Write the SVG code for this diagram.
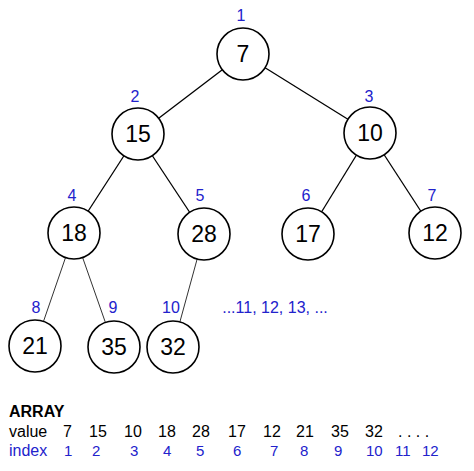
<svg xmlns="http://www.w3.org/2000/svg" width="474" height="471" viewBox="0 0 474 471">
<style>
text{font-family:"Liberation Sans",Arial,sans-serif}
.n circle{fill:#fff;stroke:#000;stroke-width:1.6}
.n text{font-size:23px;text-anchor:middle;fill:#000}
.lbl{font-size:16px;fill:#2222cc;text-anchor:middle}
.e1{stroke:#000;stroke-width:1.3}
.e2{stroke:#333;stroke-width:1}
.v{font-size:16px;fill:#000}
.ix{font-size:15px;fill:#2222cc}
</style>
<rect width="474" height="471" fill="#fff"/>
<g id="connectors">
<line class="e1" x1="243" y1="54" x2="138" y2="134"/>
<line class="e1" x1="243" y1="54" x2="370" y2="133"/>
<line class="e1" x1="138" y1="134" x2="74" y2="233"/>
<line class="e1" x1="138" y1="134" x2="204" y2="234"/>
<line class="e1" x1="370" y1="133" x2="308" y2="234"/>
<line class="e1" x1="370" y1="133" x2="435" y2="233"/>
<line class="e2" x1="74" y1="233" x2="35" y2="346"/>
<line class="e2" x1="74" y1="233" x2="114" y2="347"/>
<line class="e2" x1="204" y1="234" x2="173" y2="347"/>
</g>
<g id="node1" class="n"><circle cx="243" cy="54" r="26"/><text x="243" y="62">7</text></g>
<g id="node2" class="n"><circle cx="138" cy="134" r="26"/><text x="138" y="142">15</text></g>
<g id="node3" class="n"><circle cx="370" cy="133" r="26"/><text x="370" y="141">10</text></g>
<g id="node4" class="n"><circle cx="74" cy="233" r="26"/><text x="74" y="241">18</text></g>
<g id="node5" class="n"><circle cx="204" cy="234" r="26"/><text x="204" y="242">28</text></g>
<g id="node6" class="n"><circle cx="308" cy="234" r="26"/><text x="308" y="242">17</text></g>
<g id="node7" class="n"><circle cx="435" cy="233" r="26"/><text x="435" y="241">12</text></g>
<g id="node8" class="n"><circle cx="35" cy="346" r="26"/><text x="35" y="354">21</text></g>
<g id="node9" class="n"><circle cx="114" cy="347" r="26"/><text x="114" y="355">35</text></g>
<g id="node10" class="n"><circle cx="173" cy="347" r="26"/><text x="173" y="355">32</text></g>
<g id="labels">
<text class="lbl" x="241" y="21">1</text>
<text class="lbl" x="135" y="102">2</text>
<text class="lbl" x="369" y="102">3</text>
<text class="lbl" x="72" y="201">4</text>
<text class="lbl" x="200" y="201">5</text>
<text class="lbl" x="306" y="201">6</text>
<text class="lbl" x="432" y="201">7</text>
<text class="lbl" x="36" y="313">8</text>
<text class="lbl" x="113" y="313">9</text>
<text class="lbl" x="171" y="313">10</text>
<text class="lbl" x="275" y="313">...11, 12, 13, ...</text>
</g>
<g id="array">
<text x="9" y="417" style="font-size:16px;font-weight:bold">ARRAY</text>
<text class="v" x="9" y="437">value</text>
<text class="v" x="63" y="437">7</text>
<text class="v" x="89" y="437">15</text>
<text class="v" x="124" y="437">10</text>
<text class="v" x="158" y="437">18</text>
<text class="v" x="192" y="437">28</text>
<text class="v" x="228" y="437">17</text>
<text class="v" x="263" y="437">12</text>
<text class="v" x="296" y="437">21</text>
<text class="v" x="331" y="437">35</text>
<text class="v" x="365" y="437">32</text>
<text class="v" x="398" y="437">. . . .</text>
<text x="9" y="456" style="font-size:16px;fill:#2222cc">index</text>
<text class="ix" x="64" y="456">1</text>
<text class="ix" x="92" y="456">2</text>
<text class="ix" x="130" y="456">3</text>
<text class="ix" x="163" y="456">4</text>
<text class="ix" x="196" y="456">5</text>
<text class="ix" x="233" y="456">6</text>
<text class="ix" x="270" y="456">7</text>
<text class="ix" x="300" y="456">8</text>
<text class="ix" x="334" y="456">9</text>
<text class="ix" x="366" y="456">10</text>
<text class="ix" x="395" y="456">11</text>
<text class="ix" x="422" y="456">12</text>
</g>
</svg>
